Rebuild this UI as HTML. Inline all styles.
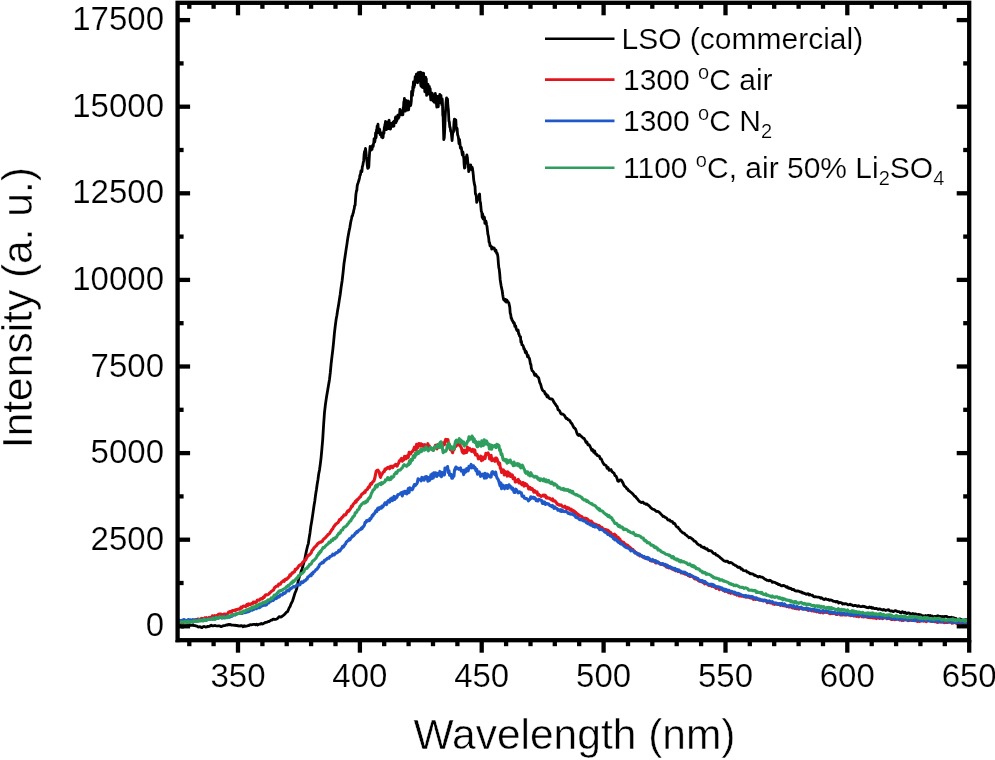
<!DOCTYPE html>
<html><head><meta charset="utf-8"><style>
html,body{margin:0;padding:0;background:#fff;}
svg{display:block;filter:blur(0.45px);}
text{font-family:"Liberation Sans",sans-serif;fill:#000;stroke:#fff;stroke-width:0.2px;paint-order:fill;}
.ttl{stroke-width:0.45px;}
</style></head><body>
<svg width="995" height="760" viewBox="0 0 995 760">
<rect width="995" height="760" fill="#fff"/>
<g fill="none" stroke-linejoin="round" stroke-linecap="round">
<polyline points="178.0,626.2 179.0,626.7 180.0,626.2 181.0,626.6 182.0,627.2 183.0,627.2 184.0,626.2 185.0,626.3 186.0,626.1 186.8,626.5 187.7,625.7 188.6,625.9 189.4,625.8 190.2,625.0 191.1,625.4 192.1,625.4 193.1,624.7 194.1,625.7 195.1,625.6 196.1,626.1 197.1,626.2 198.1,627.0 199.1,626.9 200.1,626.7 201.1,627.3 202.0,627.6 202.9,626.8 203.8,626.5 204.8,626.6 205.7,627.2 206.6,627.0 207.5,626.4 208.4,626.5 209.4,626.3 210.3,625.6 211.2,625.1 212.2,625.9 213.2,625.8 214.2,625.6 215.2,625.5 216.2,625.8 217.2,626.0 218.2,625.8 219.2,625.9 220.2,626.1 221.2,626.7 222.1,626.3 223.0,625.8 223.9,625.6 224.9,625.7 225.8,625.1 226.7,624.9 227.6,625.2 228.6,624.4 229.5,624.8 230.4,624.5 231.3,625.0 232.3,625.1 233.3,625.1 234.3,625.3 235.3,625.1 236.3,625.7 237.3,625.4 238.3,626.0 239.3,625.8 240.3,626.1 241.3,625.6 242.2,625.8 243.1,626.8 244.1,625.7 245.0,626.3 245.9,626.1 246.8,626.1 247.7,625.6 248.7,625.7 249.6,624.8 250.5,624.7 251.4,624.8 252.4,624.6 253.4,624.4 254.4,624.3 255.4,624.8 256.4,624.1 257.4,625.1 258.4,624.5 259.4,624.2 260.4,624.2 261.4,623.4 262.4,624.0 263.4,623.6 264.4,623.1 265.3,622.3 266.3,622.4 267.3,621.9 268.3,621.4 269.2,621.5 270.1,620.8 271.0,620.2 271.9,620.2 272.8,619.4 273.7,619.1 274.6,619.5 275.5,619.3 276.4,619.2 277.3,618.6 278.2,617.8 279.1,616.7 280.0,616.9 280.9,617.1 281.9,616.5 282.8,615.7 283.8,615.1 284.7,614.2 285.6,613.3 286.5,612.0 287.4,611.8 288.3,610.0 289.2,607.8 290.1,606.5 290.9,604.1 291.8,602.3 292.6,600.8 293.4,598.3 294.2,595.6 295.0,593.0 295.8,591.2 296.6,589.1 297.4,585.4 298.1,581.6 298.9,578.5 299.7,575.6 300.5,574.1 301.3,570.9 302.1,569.0 302.9,565.8 303.7,563.4 304.6,560.0 305.4,556.0 306.4,551.0 307.4,546.7 308.4,543.3 309.2,537.7 310.0,532.9 310.8,526.5 311.6,522.0 312.4,516.9 313.2,511.4 314.0,505.7 314.8,500.9 315.6,494.8 316.4,489.8 317.1,484.7 317.9,480.0 318.7,473.9 319.5,469.9 320.3,464.1 321.1,457.6 321.9,448.9 322.7,439.6 323.6,425.0 324.5,412.3 325.5,403.9 326.5,397.1 327.5,391.2 328.5,385.3 329.5,379.4 330.3,372.7 331.1,364.0 332.0,356.4 332.8,349.8 333.6,342.2 334.4,333.3 335.3,325.7 336.1,319.6 336.9,315.3 337.6,310.4 338.4,306.1 339.3,300.1 340.2,294.5 341.1,287.5 342.1,281.0 343.1,272.3 344.0,263.5 345.0,257.0 346.0,250.1 346.9,244.4 347.9,237.4 348.9,231.9 349.8,227.8 350.7,222.2 351.6,218.2 352.0,216.0 352.5,215.8 352.9,213.7 353.3,212.9 353.8,210.1 354.2,208.9 354.6,205.8 355.1,205.4 355.5,199.7 355.9,194.4 356.4,191.1 356.8,190.7 357.2,185.8 357.7,183.9 358.1,183.0 358.6,181.2 359.1,179.7 359.5,178.0 360.0,175.1 360.4,174.9 360.9,171.1 361.4,170.4 361.9,171.7 362.3,166.8 362.8,165.4 363.2,162.9 363.7,160.7 364.1,154.5 364.6,151.3 365.1,151.1 365.5,148.5 366.0,152.7 366.4,157.0 366.9,160.8 367.4,166.3 367.8,168.4 368.3,168.1 368.8,166.7 369.2,158.8 369.6,152.4 370.1,146.5 370.6,147.0 371.1,150.2 371.5,147.8 372.0,149.5 372.3,147.4 372.6,145.3 372.9,146.2 373.2,146.4 373.5,143.6 373.8,142.7 374.1,138.7 374.4,140.3 374.7,142.1 375.0,140.4 375.3,138.4 375.6,132.8 375.9,137.8 376.2,136.7 376.5,129.9 376.8,133.1 377.1,126.2 377.4,126.0 377.7,127.0 378.0,124.2 378.3,131.5 378.6,132.6 378.9,129.0 379.2,129.7 379.5,129.1 379.8,130.0 380.1,134.7 380.4,134.6 380.7,132.4 381.0,134.8 381.3,134.9 381.6,137.1 381.9,136.9 382.2,136.8 382.5,137.0 382.8,137.8 383.1,137.1 383.4,133.0 383.7,131.2 384.0,133.3 384.3,127.3 384.6,128.1 384.9,124.5 385.2,125.1 385.5,121.5 385.8,123.6 386.1,128.4 386.4,129.7 386.7,128.7 387.0,126.4 387.3,127.0 387.6,124.3 387.9,122.1 388.2,125.2 388.5,128.7 388.8,120.7 389.1,120.2 389.4,128.8 389.7,123.3 390.0,127.4 390.3,127.4 390.6,129.0 390.9,123.8 391.2,123.2 391.5,126.6 391.8,126.0 392.1,124.8 392.4,125.6 392.7,124.3 393.0,126.3 393.3,121.9 393.6,124.7 393.9,126.2 394.2,121.2 394.5,123.3 394.8,121.0 395.1,121.7 395.4,117.8 395.7,116.9 396.0,122.7 396.3,119.7 396.6,120.4 396.9,120.7 397.2,117.9 397.5,117.0 397.8,115.2 398.1,118.6 398.4,118.3 398.7,116.9 399.0,117.4 399.3,115.0 399.6,114.7 399.9,109.5 400.2,114.6 400.5,110.9 400.8,112.1 401.1,111.4 401.4,113.8 401.7,114.8 402.0,114.4 402.3,112.5 402.6,110.1 402.9,114.8 403.2,107.7 403.5,107.8 403.8,101.9 404.1,103.0 404.4,98.3 404.7,101.6 405.0,107.2 405.3,111.2 405.6,105.9 405.9,100.5 406.2,106.4 406.5,105.9 406.8,108.9 407.1,104.5 407.4,110.1 407.7,102.8 408.0,100.9 408.3,104.3 408.6,109.9 408.9,107.1 409.2,103.9 409.5,104.0 409.8,105.5 410.1,101.6 410.4,101.6 410.7,105.5 411.0,103.6 411.3,101.1 411.6,91.4 411.9,95.1 412.2,91.2 412.5,95.4 412.8,86.7 413.1,91.7 413.4,82.0 413.7,82.1 414.0,87.3 414.3,82.6 414.6,85.3 414.9,80.5 415.2,76.7 415.5,80.7 415.8,78.2 416.1,77.6 416.4,74.1 416.7,74.1 417.0,82.0 417.3,82.5 417.6,82.7 417.9,76.2 418.2,72.6 418.5,78.4 418.8,80.7 419.1,79.7 419.4,72.3 419.7,74.5 420.0,80.7 420.3,72.2 420.6,83.4 420.9,85.8 421.2,75.3 421.5,72.6 421.8,87.0 422.1,84.1 422.4,79.4 422.7,80.0 423.0,87.7 423.3,78.4 423.6,73.2 423.9,83.5 424.2,78.6 424.5,86.0 424.8,91.7 425.1,81.5 425.4,80.1 425.7,77.1 426.0,92.6 426.3,78.9 426.6,95.4 426.9,91.0 427.2,94.3 427.5,92.6 427.8,84.1 428.1,84.5 428.4,94.0 428.7,86.9 429.0,92.7 429.3,86.4 429.6,88.4 429.9,93.6 430.2,88.7 430.5,96.7 430.8,99.8 431.1,93.8 431.4,95.0 431.7,92.8 432.0,98.3 432.3,93.3 432.6,99.6 432.9,100.8 433.2,98.9 433.5,99.0 433.8,98.7 434.1,102.1 434.4,97.2 434.7,101.6 435.0,95.8 435.3,93.5 435.6,95.1 435.9,103.4 436.2,96.1 436.5,104.4 436.8,107.0 437.1,102.3 437.4,96.5 437.7,103.4 438.0,99.3 438.3,106.8 438.6,96.3 438.9,96.1 439.2,99.3 439.5,99.1 439.8,94.3 440.1,97.2 440.4,102.6 440.7,100.8 441.0,95.5 441.3,102.1 441.6,103.3 441.9,104.9 442.2,98.8 442.5,104.1 442.8,115.7 443.0,111.9 443.4,126.4 443.8,139.6 444.3,137.5 444.7,130.2 445.2,116.8 445.7,108.0 446.1,101.7 446.6,97.8 447.1,99.8 447.5,99.0 447.9,106.0 448.4,110.2 448.9,121.0 449.3,121.7 449.8,127.2 450.2,127.6 450.7,131.3 451.2,131.7 451.6,135.8 452.1,140.5 452.6,134.2 453.0,131.9 453.5,131.9 454.0,121.9 454.4,119.1 454.9,121.7 455.4,124.0 455.8,119.9 456.2,127.3 456.7,130.6 457.1,128.4 457.6,134.8 458.1,136.0 458.5,138.1 459.0,143.6 459.5,139.3 459.9,143.0 460.4,148.0 460.9,147.0 461.4,148.0 461.9,152.1 462.4,154.9 462.9,152.0 463.4,155.7 463.8,158.2 464.1,164.0 464.5,168.1 465.0,167.5 465.5,158.8 466.0,159.0 466.5,156.3 466.9,154.9 467.4,157.7 467.8,162.5 468.3,165.0 468.7,171.6 469.1,169.8 469.5,166.5 470.0,168.3 470.4,167.9 470.8,165.0 471.2,169.5 471.6,167.7 472.1,167.2 472.5,168.6 472.9,171.5 473.3,174.9 473.7,179.8 474.2,183.1 474.6,185.0 475.0,186.2 475.4,193.9 475.8,194.2 476.3,196.5 476.7,202.3 477.1,199.1 477.5,199.0 477.9,199.4 478.4,197.3 478.8,197.9 479.2,194.4 479.6,194.1 480.0,201.3 480.5,202.7 480.9,206.9 481.3,211.2 481.8,212.4 482.2,217.4 482.7,214.0 483.1,219.0 483.6,219.0 484.0,216.8 484.5,217.7 484.9,223.4 485.3,220.6 485.8,220.9 486.2,222.3 486.6,224.7 487.0,226.4 487.4,230.0 487.9,234.4 488.3,235.6 488.7,238.1 489.1,242.3 489.5,242.4 490.0,245.7 490.4,245.4 490.8,246.5 491.3,246.5 491.7,249.0 492.2,247.5 492.7,247.5 493.1,248.1 493.6,248.4 494.1,247.9 494.5,248.8 495.0,250.5 495.4,251.2 495.8,250.0 496.3,251.7 496.7,253.4 497.1,253.1 497.5,254.5 497.9,256.7 498.4,263.5 498.8,267.7 499.2,269.2 499.7,273.6 500.2,279.9 500.7,283.1 501.2,286.1 501.7,288.5 502.2,290.8 502.7,294.5 503.1,297.0 503.6,299.4 504.1,299.9 504.6,299.4 505.0,301.2 505.5,299.4 506.0,301.5 506.4,302.1 506.9,300.2 507.4,301.7 507.9,301.4 508.3,302.3 508.8,302.9 509.3,305.0 509.8,307.6 510.2,313.1 510.7,314.4 511.2,318.4 511.6,318.3 512.1,320.4 512.5,320.6 513.0,321.7 513.5,322.9 513.9,322.4 514.4,323.2 514.8,326.3 515.3,325.8 515.7,325.9 516.2,328.8 516.7,330.0 517.1,330.6 517.6,331.1 518.1,330.0 518.6,333.7 519.0,333.7 519.5,336.0 520.0,336.5 520.5,336.8 520.9,342.1 521.4,341.3 521.9,344.7 522.4,344.9 522.9,345.5 523.4,346.4 523.9,349.0 524.4,348.8 524.9,350.7 525.4,352.7 525.9,351.2 526.3,351.8 526.8,353.5 527.2,355.2 527.6,356.9 528.1,355.3 528.5,357.2 529.0,357.7 529.5,358.8 529.9,360.8 530.4,364.0 530.9,364.3 531.3,368.0 531.8,369.7 532.2,370.8 532.7,371.0 533.7,372.3 534.7,375.3 535.7,374.2 536.7,376.1 537.7,376.9 538.7,378.0 539.7,382.5 540.6,384.1 541.6,388.0 542.5,390.1 543.4,391.2 544.3,391.3 545.2,394.2 546.1,394.0 547.0,396.8 547.9,395.7 548.8,397.9 549.8,398.7 550.7,399.0 551.7,398.9 552.7,399.7 553.6,401.6 554.6,403.1 555.5,404.3 556.3,405.7 557.2,406.5 558.0,409.7 558.9,410.1 559.8,411.2 560.7,413.4 561.6,414.2 562.5,414.0 563.5,414.6 564.4,415.3 565.3,417.0 566.2,418.7 567.2,418.4 568.1,419.9 569.1,419.8 570.1,421.1 571.0,423.0 572.0,423.7 573.0,426.0 573.9,427.7 574.9,428.3 575.8,429.6 576.8,432.8 577.7,434.7 578.6,435.6 579.5,434.5 580.4,435.6 581.4,436.4 582.3,437.3 583.2,438.1 584.1,438.4 585.0,440.0 586.0,442.4 586.9,441.9 587.9,444.9 588.9,444.6 589.8,445.9 590.8,448.0 591.8,450.4 592.7,449.6 593.7,452.3 594.6,451.0 595.6,454.0 596.5,454.1 597.5,455.6 598.4,455.8 599.4,456.3 600.4,458.9 601.3,459.0 602.3,461.3 603.3,463.3 604.2,464.6 605.2,465.0 606.2,465.6 607.1,468.2 608.1,467.4 609.1,470.3 610.1,470.2 611.0,469.6 612.0,471.6 613.0,472.5 614.0,473.1 615.0,475.7 616.0,476.0 617.0,478.4 617.8,481.0 618.5,481.4 619.2,480.4 620.0,479.9 621.0,479.9 622.0,481.4 623.0,482.9 624.0,485.6 625.0,486.6 625.9,487.2 626.8,488.9 627.6,488.8 628.5,490.6 629.4,490.9 630.3,491.9 631.2,492.4 632.0,493.2 632.9,494.1 633.8,495.2 634.6,496.3 635.5,496.4 636.5,498.0 637.5,499.0 638.5,500.4 639.5,501.5 640.4,501.9 641.4,502.6 642.3,502.1 643.2,502.2 644.1,503.5 645.1,503.7 646.0,504.3 646.9,503.9 647.9,505.0 648.8,505.5 649.8,506.5 650.7,507.7 651.7,508.5 652.6,509.1 653.5,509.3 654.5,509.7 655.4,510.6 656.4,511.5 657.3,511.3 658.3,511.6 659.2,512.3 660.1,513.1 661.1,514.3 662.0,515.0 663.0,516.5 663.9,516.3 664.9,517.3 665.8,517.5 666.7,518.2 667.7,519.8 668.6,520.1 669.6,519.8 670.5,521.3 671.5,521.3 672.4,521.6 673.3,523.5 674.3,523.2 675.2,524.2 676.1,526.2 677.0,527.0 678.0,527.1 678.9,528.9 679.8,529.5 680.7,531.1 681.5,531.6 682.4,532.5 683.3,533.1 684.2,533.2 685.2,534.5 686.2,535.1 687.2,536.1 688.1,536.6 689.1,537.8 690.1,537.4 691.1,537.9 692.1,539.2 693.0,539.4 694.0,541.0 694.9,541.1 695.9,541.9 696.8,543.2 697.8,544.2 698.7,544.8 699.6,545.1 700.6,545.6 701.5,546.9 702.4,546.9 703.4,547.8 704.3,547.2 705.2,548.6 706.1,549.0 707.1,548.7 708.0,550.3 708.9,550.9 709.8,550.4 710.7,550.9 711.6,551.2 712.5,552.3 713.4,553.3 714.3,553.7 715.2,553.5 716.1,555.2 717.1,555.1 718.1,556.0 719.1,556.6 720.1,557.6 721.1,558.4 722.1,559.2 723.1,560.1 724.1,560.8 725.0,561.1 725.9,561.5 726.8,561.1 727.7,561.4 728.6,562.5 729.5,562.9 730.4,562.5 731.3,562.6 732.2,563.1 733.2,564.2 734.2,564.7 735.2,565.5 736.2,565.7 737.2,566.6 738.2,567.5 739.2,567.2 740.2,567.5 741.2,569.2 742.2,569.0 743.2,570.5 744.2,570.7 745.2,570.8 746.2,570.7 747.2,572.2 748.2,572.1 749.1,572.8 750.0,573.8 750.9,573.6 751.8,573.8 752.7,573.9 753.6,574.6 754.5,575.5 755.4,575.2 756.3,576.0 757.3,576.4 758.3,577.0 759.3,576.4 760.3,576.7 761.3,577.2 762.3,577.2 763.3,577.9 764.3,578.8 765.2,579.3 766.1,579.6 767.0,580.3 767.9,580.4 768.8,580.9 769.7,580.2 770.6,580.6 771.5,581.1 772.4,582.4 773.4,582.0 774.4,582.3 775.4,582.6 776.4,583.5 777.4,583.4 778.4,584.6 779.4,584.4 780.4,585.3 781.4,585.9 782.4,585.8 783.4,585.3 784.4,585.9 785.4,586.3 786.4,587.3 787.4,586.8 788.4,588.2 789.3,587.8 790.2,588.6 791.1,588.5 792.0,589.6 792.9,589.4 793.8,589.4 794.7,590.6 795.6,590.8 796.5,591.1 797.5,590.8 798.5,591.1 799.5,591.5 800.5,592.2 801.5,591.8 802.5,593.0 803.5,592.8 804.5,593.6 805.4,593.7 806.3,594.4 807.2,593.8 808.1,593.7 809.0,595.1 809.9,594.3 810.8,595.0 811.7,595.3 812.6,595.2 813.6,596.6 814.6,596.8 815.6,596.7 816.6,597.0 817.6,597.2 818.6,597.1 819.6,597.3 820.6,598.3 821.6,597.7 822.6,598.6 823.6,599.4 824.6,599.5 825.6,598.7 826.6,599.2 827.6,599.6 828.6,599.5 829.5,600.4 830.4,599.9 831.3,600.1 832.2,600.3 833.1,601.2 834.0,601.3 834.9,601.3 835.8,602.0 836.7,601.4 837.7,601.7 838.7,603.1 839.7,602.5 840.7,602.6 841.7,602.8 842.7,604.1 843.7,603.6 844.7,604.0 845.6,603.6 846.5,603.8 847.4,604.5 848.3,604.9 849.2,604.7 850.1,604.1 851.0,604.9 851.9,604.9 852.8,605.6 853.8,605.8 854.8,605.4 855.7,605.5 856.7,605.9 857.7,606.4 858.7,605.7 859.7,606.2 860.6,606.6 861.6,606.7 862.6,606.1 863.6,606.5 864.5,606.5 865.5,607.2 866.5,607.2 867.4,607.7 868.4,607.8 869.3,607.0 870.3,607.7 871.2,607.1 872.2,608.3 873.2,607.7 874.1,608.6 875.1,608.7 876.1,608.3 877.0,608.8 878.0,609.4 879.0,608.9 880.0,609.0 880.9,609.5 881.9,609.7 882.9,610.1 883.8,609.5 884.8,610.0 885.8,610.5 886.7,610.2 887.7,609.8 888.7,609.6 889.6,610.8 890.6,611.2 891.6,610.9 892.5,611.3 893.5,611.6 894.5,610.9 895.5,610.6 896.4,611.0 897.4,611.6 898.4,611.7 899.3,611.6 900.3,612.7 901.3,612.8 902.2,611.7 903.2,612.0 904.1,612.9 905.1,612.2 906.1,613.4 907.0,613.7 908.0,613.0 909.0,612.9 909.9,613.5 910.9,614.2 911.8,614.0 912.8,613.4 913.8,614.7 914.7,613.8 915.7,613.9 916.7,614.7 917.6,614.9 918.6,614.3 919.6,614.5 920.5,614.8 921.5,615.3 922.5,615.5 923.5,616.0 924.4,616.3 925.4,615.5 926.4,615.8 927.3,615.9 928.3,615.3 929.2,615.7 930.2,615.5 931.2,616.2 932.1,616.0 933.1,616.6 934.0,616.6 935.0,616.3 936.0,616.8 936.9,616.1 937.9,615.7 938.9,616.2 939.8,616.7 940.8,616.3 941.8,617.1 942.8,616.5 943.7,617.0 944.7,616.3 945.6,616.4 946.6,616.3 947.6,617.1 948.6,617.3 949.5,617.4 950.5,617.8 951.4,617.2 952.3,617.7 953.2,617.7 954.1,617.8 955.0,618.7 955.9,618.4 956.8,619.2 957.7,619.6 958.7,619.4 959.6,618.8 960.5,619.1 961.5,620.1 962.4,620.0 963.3,620.4 964.3,620.1 965.2,619.9 966.1,619.6 967.1,620.0 968.0,619.8" stroke="#000" stroke-width="2.8"/>
<polyline points="178.0,622.5 178.8,622.9 179.6,622.1 180.4,623.4 181.2,622.6 182.0,622.7 182.8,623.0 183.6,622.5 184.4,622.0 185.2,621.7 186.0,621.4 186.8,622.5 187.6,621.9 188.3,621.2 189.1,622.4 189.9,621.1 190.7,621.1 191.4,620.7 192.2,621.1 193.0,620.8 193.8,620.7 194.6,619.9 195.3,619.8 196.1,619.6 196.9,619.6 197.7,619.1 198.4,619.0 199.2,620.4 200.0,620.3 200.8,618.8 201.5,618.4 202.3,618.6 203.1,619.4 203.9,619.4 204.7,617.9 205.4,618.8 206.2,617.6 207.0,618.4 207.7,618.4 208.5,618.8 209.3,617.3 210.1,618.0 210.8,617.8 211.6,617.7 212.3,615.8 213.1,616.3 213.9,617.0 214.7,615.7 215.4,616.3 216.2,615.6 217.0,615.8 217.8,615.1 218.5,614.2 219.3,614.1 220.1,614.0 220.9,614.1 221.6,615.3 222.4,614.6 223.2,614.7 224.0,614.1 224.8,614.1 225.5,614.3 226.3,614.3 227.1,614.0 227.8,613.6 228.6,612.1 229.4,612.3 230.2,611.4 230.9,612.1 231.7,612.2 232.4,610.6 233.2,610.5 234.0,610.5 234.8,610.0 235.5,610.6 236.3,609.5 237.1,609.7 237.8,609.2 238.6,609.0 239.4,609.3 240.2,609.0 241.0,607.1 241.7,608.1 242.5,606.9 243.3,606.1 244.1,606.3 244.8,606.2 245.6,606.7 246.4,605.3 247.2,604.3 247.9,605.5 248.7,603.9 249.5,604.3 250.2,604.7 251.0,603.8 251.8,603.4 252.6,603.7 253.3,602.0 254.1,602.7 254.9,602.1 255.6,602.7 256.4,602.0 257.2,600.3 257.9,600.1 258.7,600.2 259.5,600.1 260.3,599.0 261.1,598.6 261.8,599.0 262.6,598.6 263.4,597.1 264.2,597.4 264.9,595.8 265.7,594.8 266.5,595.0 267.3,594.7 268.1,594.5 268.9,594.0 269.6,593.0 270.4,592.3 271.2,591.5 272.0,590.9 272.7,590.4 273.5,590.1 274.2,588.4 274.9,587.2 275.7,586.9 276.4,586.2 277.2,585.9 277.9,586.1 278.7,584.1 279.5,584.2 280.3,584.3 281.1,582.7 281.9,581.8 282.6,581.5 283.4,580.7 284.2,581.3 285.0,579.6 285.8,579.0 286.6,579.4 287.4,578.6 288.2,577.4 289.0,577.2 289.8,574.9 290.5,575.7 291.3,574.2 292.1,572.9 292.9,573.0 293.7,571.9 294.5,571.7 295.3,569.3 296.1,569.4 296.9,568.5 297.6,568.0 298.4,566.5 299.2,565.3 300.0,565.5 300.8,564.3 301.6,564.4 302.4,562.7 303.2,561.8 304.0,561.2 304.8,560.1 305.6,559.9 306.3,558.6 307.1,557.1 307.9,555.6 308.7,555.4 309.5,554.6 310.3,553.7 311.1,553.1 311.9,550.6 312.7,549.9 313.4,548.9 314.2,547.7 315.0,546.8 315.8,546.1 316.6,545.3 317.4,544.1 318.1,543.3 318.7,543.2 319.4,542.4 320.0,542.3 320.8,542.3 321.5,541.4 322.3,541.4 323.0,539.8 323.8,539.0 324.5,538.4 325.3,537.8 326.0,536.9 326.8,536.1 327.5,535.4 328.3,534.2 329.0,534.2 329.8,533.1 330.5,531.8 331.3,530.7 332.0,529.4 332.8,528.8 333.5,527.0 334.3,526.2 335.0,524.9 335.8,524.3 336.6,523.5 337.3,523.0 338.1,522.4 338.8,521.2 339.6,519.5 340.3,519.9 341.1,518.8 341.8,517.6 342.6,517.1 343.3,516.2 344.1,514.9 344.8,515.0 345.6,514.9 346.3,513.7 347.1,511.8 347.8,510.8 348.6,511.3 349.3,510.3 350.1,509.1 350.8,508.2 351.6,506.2 352.3,506.5 353.1,504.4 353.8,503.5 354.6,503.0 355.3,501.4 356.1,502.0 356.8,499.9 357.6,500.0 358.3,498.8 359.1,498.2 359.8,496.9 360.6,496.7 361.3,494.8 362.1,494.2 362.9,493.2 363.6,493.3 364.4,491.8 365.1,492.3 365.9,490.1 366.6,489.8 367.4,489.4 368.1,487.7 368.7,486.8 369.4,487.2 370.0,485.0 370.8,483.6 371.6,484.1 372.3,482.5 373.1,481.6 373.9,481.0 374.7,478.6 375.5,474.6 376.3,471.2 377.1,470.5 377.9,470.1 378.6,471.4 379.2,471.9 379.9,475.5 380.5,477.4 381.3,475.0 382.0,474.0 382.8,472.9 383.5,471.7 384.3,471.5 385.0,469.1 385.8,469.5 386.6,468.6 387.3,467.8 388.1,467.2 388.8,467.3 389.6,468.7 390.3,466.5 391.1,466.2 391.8,466.3 392.6,467.7 393.3,466.4 394.1,465.5 394.8,465.6 395.6,464.3 396.3,465.3 397.1,466.2 397.8,464.1 398.6,463.3 399.3,460.8 400.1,460.9 400.8,459.3 401.6,458.4 402.3,461.2 403.1,460.0 403.8,459.9 404.6,456.4 405.3,456.8 406.1,458.7 406.8,456.0 407.6,457.7 408.3,457.3 409.1,452.4 409.8,453.9 410.6,454.0 411.3,452.3 412.1,451.8 412.9,450.9 413.6,449.3 414.4,447.2 415.1,449.6 415.9,450.0 416.6,444.4 417.4,448.2 418.1,446.5 418.9,443.6 419.6,443.8 420.4,446.1 421.1,443.8 421.9,444.7 422.6,444.6 423.4,448.4 424.1,445.6 424.9,444.6 425.6,448.2 426.4,448.4 427.1,447.0 427.9,443.7 428.7,448.2 429.4,446.0 430.2,448.5 430.9,448.7 431.7,448.8 432.4,449.8 433.2,450.2 433.9,448.1 434.7,447.9 435.4,445.3 436.2,446.4 436.9,448.9 437.7,444.6 438.4,447.2 439.2,447.2 439.9,443.3 440.7,446.3 441.4,445.3 442.2,446.8 442.9,443.0 443.7,444.7 444.4,444.6 445.1,441.1 445.7,439.4 446.4,439.6 447.1,441.0 447.9,439.5 448.7,445.0 449.4,444.3 450.2,449.5 451.0,449.0 451.8,450.8 452.6,452.7 453.3,449.8 454.1,449.7 454.8,446.9 455.6,446.6 456.3,443.3 457.1,445.3 457.8,444.6 458.5,444.0 459.3,443.9 460.0,445.8 460.8,446.7 461.5,448.1 462.2,451.7 463.0,452.8 463.7,453.2 464.4,450.2 465.2,452.7 465.9,450.5 466.6,452.5 467.4,447.0 468.1,450.3 468.9,449.0 469.6,448.5 470.3,450.0 471.1,450.9 471.8,451.4 472.6,449.3 473.3,450.3 474.0,452.3 474.8,449.9 475.5,455.0 476.2,454.4 477.0,454.3 477.7,456.2 478.4,458.8 479.2,458.6 479.9,458.3 480.7,456.1 481.4,460.6 482.1,457.1 482.9,459.9 483.6,457.1 484.4,457.7 485.1,458.5 485.9,453.3 486.6,454.4 487.4,453.6 488.1,453.0 488.9,455.0 489.6,458.9 490.4,455.6 491.1,455.4 491.8,460.8 492.6,458.7 493.3,458.9 494.1,460.4 494.9,461.3 495.6,458.0 496.4,458.0 497.2,459.5 498.0,462.3 498.8,464.4 499.6,463.0 500.4,468.5 501.0,468.5 501.6,472.4 502.2,470.2 502.8,470.8 503.5,469.9 504.3,475.0 505.0,471.4 505.8,472.3 506.5,472.3 507.2,476.1 508.0,471.9 508.7,473.6 509.4,475.9 510.2,473.8 510.9,476.5 511.6,476.4 512.4,475.0 513.1,478.6 513.9,477.9 514.6,477.8 515.3,482.0 516.1,481.8 516.8,480.4 517.5,480.2 518.3,479.3 519.0,483.0 519.8,481.3 520.5,482.9 521.2,483.8 522.0,484.8 522.8,482.6 523.5,482.8 524.2,486.1 525.0,483.6 525.8,485.5 526.5,484.4 527.2,485.6 527.9,485.9 528.6,488.9 529.3,489.0 530.0,487.5 530.8,489.3 531.5,489.5 532.3,488.6 533.1,490.2 533.9,492.2 534.7,490.6 535.4,491.5 536.2,492.5 537.0,491.8 537.8,494.9 538.5,494.1 539.3,495.3 540.1,495.3 540.9,496.4 541.6,496.2 542.4,495.7 543.2,495.1 544.0,496.2 544.8,495.2 545.5,495.6 546.3,497.9 547.1,497.2 547.9,498.1 548.6,498.2 549.4,498.0 550.2,498.8 551.0,499.6 551.7,500.1 552.5,498.9 553.3,501.0 554.0,500.6 554.8,500.7 555.6,501.7 556.4,502.7 557.1,503.9 557.9,504.5 558.7,504.4 559.4,505.3 560.2,505.3 561.0,504.8 561.8,505.8 562.5,506.6 563.3,507.0 564.1,507.1 564.9,506.2 565.6,507.7 566.4,508.5 567.2,507.4 568.0,508.6 568.8,507.9 569.5,509.3 570.3,510.0 571.1,509.1 571.8,510.7 572.6,510.3 573.4,511.9 574.1,510.9 574.9,512.8 575.7,512.4 576.5,513.3 577.2,513.6 578.0,515.3 578.8,514.8 579.5,515.6 580.3,516.1 581.1,516.3 581.9,516.7 582.6,518.0 583.4,518.1 584.2,518.8 585.0,518.1 585.7,519.1 586.5,518.6 587.3,519.0 588.1,520.0 588.9,520.7 589.6,521.3 590.4,521.4 591.2,521.0 591.9,521.9 592.7,523.1 593.5,523.9 594.2,524.3 595.0,524.0 595.8,525.3 596.5,524.6 597.3,525.7 598.1,526.4 598.9,525.5 599.6,526.1 600.4,527.0 601.2,527.2 602.0,527.5 602.7,528.6 603.5,529.1 604.3,529.2 605.1,530.0 605.8,529.6 606.6,530.1 607.4,530.0 608.2,530.6 609.0,531.5 609.7,532.5 610.5,532.4 611.3,533.6 612.0,534.2 612.8,534.4 613.6,535.0 614.4,534.2 615.1,536.0 615.9,535.4 616.6,537.3 617.4,537.4 618.2,537.4 619.0,539.5 619.7,538.8 620.5,540.8 621.3,541.1 622.0,542.0 622.8,542.2 623.6,542.3 624.4,543.6 625.2,543.9 625.9,545.1 626.7,546.1 627.5,545.2 628.3,546.0 629.0,547.1 629.8,547.0 630.6,548.2 631.4,549.0 632.1,549.1 632.9,549.4 633.7,551.1 634.5,551.0 635.2,552.4 636.0,552.4 636.8,553.8 637.5,553.3 638.3,554.2 639.1,554.2 639.8,555.9 640.6,555.1 641.4,556.2 642.2,556.1 643.0,557.1 643.8,557.3 644.6,558.0 645.4,558.1 646.2,558.1 647.0,558.4 647.8,558.2 648.6,558.5 649.4,558.9 650.2,560.6 651.0,560.4 651.8,561.2 652.6,561.0 653.4,560.6 654.1,560.6 654.9,561.8 655.7,562.9 656.5,562.9 657.3,561.9 658.0,562.7 658.8,562.6 659.6,563.2 660.4,564.2 661.1,563.9 661.9,564.5 662.7,564.4 663.5,564.9 664.2,565.2 665.0,565.8 665.8,565.2 666.6,567.2 667.3,566.0 668.1,566.1 668.9,568.0 669.6,567.3 670.4,567.0 671.2,567.7 672.0,569.0 672.7,569.2 673.5,569.4 674.3,570.0 675.0,569.7 675.8,570.8 676.6,569.9 677.4,570.7 678.1,571.6 678.9,571.4 679.7,571.2 680.5,571.6 681.2,572.9 682.0,572.6 682.8,572.6 683.6,573.4 684.3,572.8 685.1,574.2 685.9,573.9 686.7,574.5 687.4,574.5 688.2,575.7 689.0,574.8 689.8,576.4 690.5,576.4 691.3,575.9 692.1,576.2 692.9,576.8 693.7,577.5 694.5,578.8 695.3,579.0 696.0,578.5 696.8,579.3 697.6,578.9 698.4,580.7 699.2,581.0 700.0,581.3 700.8,581.6 701.6,581.0 702.4,582.2 703.2,582.6 704.0,583.0 704.8,583.9 705.6,583.2 706.4,583.4 707.2,584.1 708.0,584.7 708.7,585.4 709.5,585.5 710.2,585.4 711.0,585.5 711.7,586.4 712.4,586.1 713.1,586.4 713.9,586.0 714.6,587.2 715.4,586.9 716.1,588.5 716.9,587.3 717.7,587.5 718.5,588.6 719.3,589.7 720.1,588.7 720.9,588.8 721.7,589.0 722.5,589.1 723.3,590.4 724.1,590.2 724.8,591.3 725.6,590.5 726.3,591.3 727.0,590.6 727.8,591.3 728.5,592.6 729.2,592.3 730.0,592.3 730.7,593.3 731.5,592.5 732.2,592.2 733.0,593.2 733.8,593.6 734.6,594.2 735.4,593.7 736.2,594.2 737.0,595.1 737.8,594.9 738.6,594.4 739.4,595.9 740.2,595.4 741.0,596.1 741.8,596.3 742.6,596.3 743.4,595.8 744.2,596.7 745.0,595.9 745.8,597.1 746.6,597.0 747.4,596.9 748.2,597.3 748.9,597.2 749.7,597.7 750.4,597.8 751.1,598.1 751.9,597.4 752.6,597.7 753.4,599.3 754.1,598.2 754.8,598.6 755.6,599.5 756.3,599.1 757.1,599.3 757.9,598.8 758.7,599.8 759.5,600.2 760.3,600.1 761.1,600.2 761.9,600.0 762.7,600.6 763.5,600.2 764.3,600.8 765.0,600.5 765.8,600.9 766.5,600.9 767.2,602.7 768.0,602.1 768.7,601.8 769.5,602.6 770.2,602.2 770.9,603.0 771.7,603.0 772.4,602.9 773.2,604.0 774.0,603.8 774.8,604.4 775.6,603.3 776.4,603.7 777.2,604.4 778.0,604.4 778.8,604.0 779.6,603.8 780.4,605.3 781.2,604.6 782.0,604.1 782.8,605.5 783.6,605.0 784.4,605.9 785.2,605.0 786.0,605.4 786.8,606.7 787.6,606.3 788.4,606.1 789.1,607.1 789.9,606.9 790.6,606.2 791.4,606.5 792.1,607.8 792.8,608.0 793.5,607.8 794.3,607.6 795.0,608.5 795.8,608.2 796.5,608.8 797.3,608.5 798.1,607.8 798.9,609.1 799.7,608.6 800.5,608.3 801.3,608.3 802.1,608.4 802.9,609.0 803.7,608.3 804.5,609.0 805.2,608.9 806.0,608.7 806.7,609.6 807.5,609.4 808.2,610.5 808.9,610.0 809.6,609.4 810.4,609.4 811.1,610.4 811.9,610.9 812.6,610.3 813.4,610.7 814.2,611.3 815.0,611.1 815.8,611.2 816.6,611.8 817.4,610.6 818.2,610.8 819.0,612.3 819.8,612.1 820.6,612.6 821.4,611.9 822.2,611.8 823.0,612.9 823.8,612.4 824.6,612.1 825.4,612.3 826.2,612.4 827.0,611.8 827.8,612.1 828.6,613.0 829.3,613.2 830.1,613.7 830.8,613.2 831.5,612.5 832.3,613.6 833.0,612.8 833.8,613.5 834.5,613.0 835.2,613.2 836.0,614.4 836.7,613.9 837.5,614.3 838.3,613.3 839.0,613.9 839.8,613.9 840.6,615.0 841.4,614.7 842.2,614.9 843.0,614.7 843.7,613.7 844.5,615.0 845.3,615.0 846.1,615.0 846.9,614.6 847.6,614.4 848.4,614.9 849.2,614.8 850.0,614.3 850.8,615.6 851.6,615.4 852.4,614.6 853.2,615.5 854.0,616.2 854.8,615.5 855.6,614.7 856.4,616.4 857.2,616.0 858.0,615.7 858.8,616.7 859.6,615.8 860.4,615.5 861.2,615.2 862.0,616.7 862.8,615.6 863.6,616.9 864.4,615.6 865.2,616.7 866.0,615.7 866.8,617.0 867.6,615.8 868.4,617.5 869.2,617.0 870.0,617.5 870.8,617.8 871.6,617.3 872.4,617.3 873.2,618.0 874.0,617.7 874.8,618.0 875.6,617.5 876.4,618.5 877.2,617.8 878.0,617.1 878.8,617.0 879.6,618.5 880.4,617.2 881.2,618.2 882.0,618.1 882.8,618.7 883.6,618.0 884.4,617.7 885.2,617.8 886.0,617.8 886.8,618.6 887.6,617.8 888.4,618.5 889.2,618.2 890.0,618.2 890.8,619.3 891.6,619.5 892.4,619.4 893.2,618.9 894.0,619.1 894.8,619.6 895.6,619.5 896.4,619.3 897.1,618.9 897.9,618.9 898.7,619.5 899.5,620.0 900.3,619.3 901.1,619.7 901.9,620.5 902.6,619.4 903.4,620.3 904.2,619.9 905.0,619.6 905.8,619.9 906.6,619.2 907.3,620.1 908.1,620.6 908.9,619.3 909.7,620.4 910.5,619.4 911.3,619.5 912.1,620.5 912.8,620.4 913.6,619.8 914.4,620.1 915.2,619.7 916.0,620.8 916.8,620.9 917.5,621.4 918.3,621.0 919.1,621.4 919.9,621.2 920.7,620.9 921.5,620.9 922.3,620.1 923.0,620.3 923.8,621.1 924.6,620.7 925.4,620.3 926.2,621.6 927.0,620.9 927.8,620.4 928.5,620.5 929.3,620.4 930.1,620.7 930.9,621.4 931.7,621.3 932.5,620.8 933.2,620.7 934.0,621.4 934.8,621.7 935.6,621.5 936.4,621.6 937.2,622.4 938.0,622.3 938.7,622.1 939.5,621.5 940.3,621.9 941.1,622.2 941.9,621.7 942.7,621.1 943.5,622.2 944.2,622.6 945.0,621.6 945.8,622.5 946.6,622.5 947.4,622.4 948.2,621.3 949.0,621.3 949.7,622.2 950.5,622.3 951.3,621.6 952.1,623.2 952.9,621.9 953.7,622.8 954.4,622.3 955.2,622.3 956.0,623.0 956.8,623.4 957.5,621.7 958.3,623.0 959.0,622.9 959.8,622.7 960.5,622.4 961.3,622.7 962.0,622.3 962.8,623.5 963.5,622.1 964.3,622.2 965.0,623.2 965.8,622.8 966.5,623.1 967.2,622.9 968.0,623.0" stroke="#e3141c" stroke-width="3.1"/>
<polyline points="178.0,620.4 178.8,620.8 179.6,620.4 180.4,620.9 181.2,621.3 182.0,620.4 182.8,620.3 183.6,619.5 184.4,619.8 185.2,620.2 186.0,620.5 186.8,620.8 187.5,620.0 188.3,619.5 189.1,619.9 189.8,621.0 190.6,619.8 191.4,620.3 192.2,621.2 192.9,619.6 193.7,620.6 194.5,621.3 195.2,620.0 196.0,620.6 196.8,621.2 197.5,619.8 198.3,620.5 199.1,620.8 199.8,620.6 200.6,620.2 201.4,619.7 202.2,620.1 202.9,619.8 203.7,619.9 204.5,619.6 205.2,620.4 206.0,620.2 206.8,619.3 207.5,619.6 208.3,619.0 209.1,619.2 209.8,618.9 210.6,619.3 211.4,618.7 212.2,618.7 212.9,619.1 213.7,618.4 214.5,619.2 215.2,617.7 216.0,618.6 216.8,618.0 217.5,617.9 218.3,618.2 219.1,617.9 219.8,617.6 220.6,616.8 221.4,616.9 222.2,617.9 222.9,617.5 223.7,617.7 224.5,618.0 225.2,617.4 226.0,616.2 226.8,616.5 227.5,616.9 228.3,616.1 229.1,617.2 229.8,617.0 230.6,616.6 231.4,615.7 232.2,616.2 232.9,614.7 233.7,614.8 234.5,614.9 235.2,615.1 236.0,614.5 236.7,613.7 237.5,613.8 238.2,613.6 239.0,613.4 239.7,612.9 240.5,613.2 241.2,613.0 241.9,613.4 242.7,613.2 243.4,612.5 244.2,612.2 244.9,612.6 245.7,612.5 246.4,611.9 247.2,611.9 247.9,611.9 248.7,610.0 249.5,611.3 250.2,609.9 251.0,610.0 251.8,610.3 252.6,609.9 253.3,608.6 254.1,609.2 254.9,607.9 255.6,608.1 256.4,608.7 257.2,607.7 257.9,607.7 258.7,607.7 259.5,607.6 260.3,607.2 261.1,605.5 261.8,606.0 262.6,605.8 263.4,604.7 264.2,605.3 264.9,605.0 265.7,605.1 266.5,604.9 267.3,603.0 268.1,602.7 268.9,602.9 269.6,601.5 270.4,601.1 271.2,601.2 272.0,599.9 272.7,600.5 273.5,600.2 274.2,598.3 274.9,598.7 275.7,598.8 276.4,598.6 277.2,596.9 277.9,596.3 278.7,597.1 279.5,596.7 280.3,594.9 281.1,594.9 281.9,594.9 282.6,594.7 283.4,593.0 284.2,593.4 285.0,593.2 285.8,592.3 286.6,591.1 287.4,590.4 288.2,590.4 289.0,590.8 289.8,589.0 290.5,588.4 291.3,588.6 292.1,587.6 292.9,587.2 293.7,586.5 294.5,587.0 295.3,586.8 296.1,585.9 296.9,584.9 297.6,584.8 298.4,584.8 299.2,585.0 300.0,584.6 300.8,582.8 301.6,581.8 302.4,582.7 303.2,582.3 304.0,580.9 304.8,580.9 305.6,580.4 306.3,579.3 307.1,579.1 307.9,576.9 308.7,576.7 309.5,576.0 310.3,575.0 311.1,575.7 311.9,573.4 312.7,573.9 313.4,572.0 314.2,571.8 315.0,571.0 315.8,569.8 316.6,569.5 317.4,568.6 318.1,567.3 318.7,567.0 319.4,564.9 320.0,564.1 320.8,563.7 321.5,563.1 322.3,562.2 323.0,562.9 323.8,562.2 324.5,560.4 325.3,560.3 326.0,559.4 326.8,559.2 327.5,558.2 328.3,558.0 329.0,558.2 329.8,556.6 330.5,556.6 331.3,556.0 332.0,555.8 332.8,554.2 333.5,555.0 334.3,554.9 335.0,553.9 335.8,552.8 336.6,553.0 337.3,552.5 338.1,551.8 338.8,550.3 339.6,551.1 340.3,550.4 341.1,548.8 341.8,548.3 342.6,546.4 343.3,547.2 344.1,545.9 344.8,544.6 345.6,543.9 346.3,542.0 347.1,541.5 347.8,540.6 348.6,540.5 349.3,538.8 350.1,539.6 350.8,538.1 351.6,537.3 352.3,535.9 353.1,536.2 353.8,535.6 354.6,534.5 355.3,533.1 356.1,533.3 356.8,531.5 357.6,532.1 358.3,531.0 359.1,530.0 359.8,529.8 360.6,529.5 361.3,528.2 362.1,528.6 362.9,526.8 363.6,526.6 364.4,525.2 365.1,522.4 365.9,522.4 366.6,520.7 367.4,521.1 368.1,520.3 368.7,519.9 369.4,520.7 370.0,518.5 370.8,519.0 371.5,517.4 372.3,515.4 373.0,515.8 373.8,513.9 374.5,513.6 375.3,511.9 376.0,510.5 376.8,511.6 377.5,508.6 378.3,507.9 379.0,509.3 379.8,507.8 380.5,507.2 381.3,508.2 382.0,506.0 382.8,507.1 383.5,505.8 384.3,504.3 385.0,502.8 385.8,502.9 386.6,504.7 387.3,502.2 388.1,500.8 388.8,500.6 389.6,502.1 390.3,499.0 391.1,500.7 391.8,498.0 392.6,500.6 393.3,498.6 394.1,496.4 394.8,499.4 395.6,496.9 396.3,498.0 397.1,496.8 397.8,494.7 398.6,494.4 399.3,494.2 400.1,493.9 400.8,493.0 401.6,492.6 402.3,496.0 403.1,492.0 403.8,493.4 404.6,491.4 405.3,491.4 406.1,493.4 406.8,493.8 407.6,491.2 408.3,488.6 409.1,492.6 409.8,487.7 410.6,488.7 411.3,488.8 412.1,489.8 412.9,488.6 413.6,486.6 414.4,484.5 415.1,485.6 415.9,484.7 416.6,483.9 417.4,482.4 418.1,478.7 418.9,479.2 419.6,479.7 420.4,479.4 421.1,480.8 421.9,477.4 422.6,479.6 423.4,478.0 424.1,480.2 424.9,477.0 425.6,478.6 426.4,476.5 427.1,477.1 427.9,481.2 428.7,477.5 429.4,480.6 430.2,478.1 430.9,474.8 431.7,478.7 432.4,473.9 433.2,478.0 433.9,472.8 434.7,476.2 435.4,472.7 436.2,473.3 436.9,476.4 437.7,473.4 438.4,474.3 439.2,474.9 439.9,471.4 440.7,475.9 441.4,476.6 442.2,472.4 442.9,474.9 443.7,473.4 444.4,474.9 445.0,468.0 445.6,468.1 446.3,468.5 446.9,468.8 447.6,466.6 448.2,472.5 448.9,470.6 449.6,475.3 450.4,475.1 451.1,474.4 451.8,478.2 452.5,478.1 453.2,476.3 453.9,476.3 454.5,470.4 455.2,468.7 455.9,467.0 456.6,468.8 457.4,468.1 458.2,468.2 459.0,469.3 459.8,468.8 460.5,467.8 461.3,471.0 462.1,470.4 462.9,471.7 463.7,474.6 464.4,470.1 465.2,472.3 466.0,471.6 466.7,468.7 467.5,468.9 468.2,470.8 469.0,466.2 469.7,467.5 470.5,467.6 471.2,464.4 472.0,467.8 472.8,466.0 473.6,465.9 474.4,468.2 475.2,467.7 475.9,470.6 476.7,469.3 477.5,474.3 478.3,473.0 479.1,471.8 479.9,473.3 480.6,476.3 481.4,476.1 482.1,474.5 482.9,474.0 483.6,474.4 484.4,478.1 485.1,473.2 485.9,477.9 486.6,477.7 487.4,474.1 488.1,474.7 488.9,475.7 489.6,476.7 490.4,477.1 491.1,476.9 491.8,472.4 492.6,471.6 493.3,473.2 494.1,473.8 494.9,474.7 495.6,472.1 496.4,475.9 497.2,478.3 498.0,479.2 498.7,480.9 499.4,483.2 500.2,486.0 500.9,482.9 501.6,488.7 502.3,485.0 503.1,485.3 503.8,486.1 504.6,488.8 505.3,486.9 506.0,485.5 506.8,485.6 507.5,488.4 508.2,488.1 509.0,484.8 509.7,485.9 510.4,487.0 511.2,486.9 511.9,489.2 512.7,488.1 513.4,490.3 514.2,492.4 515.0,492.4 515.8,489.2 516.6,490.0 517.3,491.4 518.1,492.8 518.9,492.0 519.7,491.8 520.5,492.7 521.3,492.7 522.1,496.3 522.9,496.4 523.7,496.1 524.4,498.2 525.2,498.2 526.0,498.8 526.8,498.6 527.6,499.3 528.4,500.9 529.2,499.6 530.0,499.4 530.8,496.8 531.5,498.3 532.3,498.0 533.1,497.2 533.9,498.5 534.7,497.6 535.4,498.5 536.2,500.7 537.0,500.6 537.8,501.0 538.5,499.3 539.3,499.9 540.1,499.7 540.9,500.2 541.6,500.5 542.4,503.4 543.2,503.5 544.0,501.8 544.8,502.2 545.5,504.5 546.3,503.7 547.1,503.5 547.9,504.1 548.6,503.9 549.4,505.1 550.2,505.8 551.0,505.6 551.7,506.7 552.5,505.5 553.3,507.0 554.0,508.3 554.8,506.9 555.6,508.0 556.4,508.7 557.1,508.6 557.9,510.2 558.7,509.6 559.4,510.0 560.2,511.0 561.0,509.7 561.8,511.5 562.5,510.4 563.3,511.1 564.1,511.5 564.9,511.6 565.6,511.0 566.4,511.7 567.2,512.0 568.0,513.3 568.8,513.5 569.5,513.2 570.3,514.1 571.1,514.3 571.8,513.8 572.6,513.7 573.4,515.1 574.1,515.0 574.9,515.0 575.7,517.2 576.5,517.7 577.2,517.5 578.0,518.1 578.8,518.7 579.5,519.6 580.3,519.2 581.1,519.9 581.9,519.6 582.6,520.1 583.4,520.9 584.2,520.8 585.0,520.8 585.7,521.8 586.5,522.9 587.3,522.4 588.1,523.8 588.9,523.9 589.6,524.2 590.4,525.0 591.2,523.9 591.9,524.5 592.7,526.2 593.5,526.5 594.2,525.4 595.0,527.0 595.8,526.0 596.5,526.6 597.3,527.0 598.1,527.7 598.9,528.3 599.6,529.6 600.4,529.2 601.1,529.1 601.9,529.8 602.7,529.8 603.4,530.3 604.2,531.5 604.9,532.2 605.7,532.2 606.4,532.9 607.2,533.0 607.9,534.5 608.7,534.5 609.4,534.7 610.2,535.8 610.9,535.8 611.7,536.5 612.5,536.7 613.2,538.4 614.0,538.0 614.7,539.8 615.5,539.3 616.3,539.4 617.0,541.0 617.8,541.6 618.6,542.4 619.4,541.6 620.1,543.4 620.9,544.0 621.7,543.6 622.5,544.4 623.2,545.2 624.0,545.1 624.8,546.8 625.5,547.0 626.3,547.7 627.1,547.5 627.9,548.1 628.6,548.1 629.4,548.8 630.2,550.0 631.0,550.9 631.7,550.0 632.5,550.3 633.3,550.8 634.1,551.9 634.8,553.0 635.6,552.4 636.4,553.3 637.2,553.8 638.0,554.8 638.7,554.0 639.5,554.1 640.3,555.4 641.0,555.5 641.8,555.7 642.6,556.9 643.4,557.0 644.1,556.3 644.9,557.4 645.7,558.2 646.4,558.7 647.2,557.3 648.0,559.1 648.8,558.0 649.5,559.4 650.3,559.6 651.1,560.5 651.8,560.2 652.6,559.5 653.4,560.9 654.1,560.5 654.9,561.8 655.7,560.7 656.5,561.5 657.3,562.5 658.0,561.8 658.8,563.0 659.6,563.4 660.4,563.8 661.1,564.3 661.9,563.8 662.7,563.6 663.5,564.1 664.2,564.7 665.0,564.4 665.8,565.9 666.6,565.0 667.3,565.3 668.1,567.2 668.9,567.3 669.6,566.6 670.4,567.1 671.2,568.3 672.0,568.2 672.7,567.9 673.5,568.5 674.3,569.6 675.0,568.3 675.8,570.4 676.6,570.0 677.4,569.6 678.1,571.0 678.9,570.0 679.7,570.9 680.5,571.5 681.2,571.3 682.0,572.7 682.8,572.7 683.6,572.0 684.3,572.3 685.1,572.4 685.9,573.6 686.7,573.3 687.4,574.2 688.2,575.0 689.0,575.4 689.8,574.4 690.5,575.1 691.3,575.6 692.1,575.9 692.9,576.3 693.7,576.8 694.5,577.7 695.3,577.4 696.1,577.9 696.9,578.4 697.7,578.4 698.5,579.7 699.3,579.7 700.1,581.0 700.9,581.2 701.7,580.5 702.5,580.8 703.2,582.1 704.0,582.0 704.8,581.3 705.6,582.8 706.3,582.6 707.1,583.6 707.9,583.9 708.7,584.5 709.5,584.4 710.2,585.0 711.0,584.2 711.8,584.6 712.6,584.4 713.4,586.2 714.2,585.2 715.0,586.2 715.8,586.4 716.6,587.3 717.4,586.8 718.2,586.7 719.0,587.4 719.7,587.1 720.5,587.8 721.2,588.7 721.9,587.9 722.6,589.9 723.4,589.3 724.1,589.1 724.8,590.3 725.6,589.3 726.3,589.9 727.0,591.2 727.8,590.2 728.5,591.3 729.2,590.4 730.0,591.4 730.7,591.8 731.5,591.3 732.2,591.7 733.0,592.3 733.8,592.6 734.6,592.1 735.4,592.8 736.2,594.1 737.0,593.1 737.8,594.1 738.6,593.3 739.4,594.0 740.2,594.3 741.0,594.7 741.8,595.1 742.6,595.5 743.4,595.5 744.2,595.9 745.0,596.3 745.8,595.5 746.6,596.6 747.4,596.2 748.2,596.0 748.9,596.0 749.7,597.3 750.4,597.2 751.1,596.4 751.9,597.5 752.6,596.7 753.4,597.6 754.1,598.1 754.8,598.4 755.6,597.7 756.3,597.7 757.1,598.8 757.9,599.5 758.7,599.6 759.5,599.0 760.3,599.6 761.1,600.0 761.9,600.5 762.7,600.0 763.5,600.9 764.3,600.1 765.0,600.1 765.8,600.4 766.5,601.3 767.2,601.8 768.0,601.2 768.7,601.8 769.5,601.0 770.2,601.8 770.9,601.9 771.7,602.0 772.4,601.7 773.2,602.7 774.0,602.9 774.8,603.0 775.6,603.4 776.4,603.0 777.2,603.9 778.0,603.6 778.8,604.3 779.6,603.6 780.4,604.3 781.2,603.5 782.0,603.5 782.8,605.2 783.6,604.3 784.4,603.9 785.2,605.1 786.0,605.8 786.8,605.7 787.6,606.2 788.4,606.3 789.1,605.6 789.9,605.3 790.6,605.2 791.4,605.7 792.1,606.5 792.8,607.2 793.5,605.7 794.3,607.3 795.0,607.4 795.8,607.4 796.5,606.5 797.3,606.5 798.1,607.9 798.9,607.8 799.7,607.5 800.5,607.5 801.3,607.1 802.1,608.9 802.9,608.8 803.7,609.1 804.5,609.0 805.2,608.4 806.0,609.3 806.7,608.2 807.5,609.2 808.2,608.5 808.9,608.9 809.6,609.9 810.4,609.2 811.1,610.2 811.9,609.8 812.6,609.3 813.4,609.4 814.2,609.1 815.0,610.2 815.8,610.8 816.6,609.8 817.4,610.4 818.2,611.4 819.0,610.5 819.8,611.6 820.6,611.5 821.4,611.0 822.2,611.4 823.0,610.5 823.8,611.4 824.6,611.9 825.4,611.1 826.2,610.9 827.0,610.9 827.8,611.3 828.6,611.5 829.3,612.6 830.1,612.1 830.8,612.4 831.5,612.1 832.3,612.1 833.0,612.7 833.8,613.1 834.5,612.2 835.2,612.7 836.0,613.2 836.7,613.8 837.5,612.7 838.3,613.0 839.1,613.3 839.9,612.6 840.7,613.6 841.5,614.3 842.3,613.1 843.1,613.5 843.9,612.9 844.7,613.7 845.4,614.6 846.2,613.9 846.9,613.4 847.6,613.6 848.4,614.3 849.1,614.8 849.9,614.1 850.6,614.3 851.3,614.9 852.1,613.7 852.8,615.3 853.6,614.5 854.4,614.3 855.2,615.2 856.0,614.3 856.8,614.2 857.6,614.5 858.4,615.3 859.2,614.3 860.0,615.0 860.8,614.7 861.6,615.3 862.4,614.7 863.1,615.9 864.0,616.2 864.8,615.2 865.5,615.3 866.3,615.8 867.1,616.1 867.9,615.0 868.7,616.2 869.5,616.5 870.3,616.5 871.1,615.9 871.9,616.7 872.7,616.3 873.5,615.7 874.3,615.9 875.1,616.6 875.9,616.6 876.7,617.1 877.5,617.0 878.2,616.2 879.0,616.6 879.8,617.4 880.6,616.9 881.4,616.6 882.2,617.9 883.0,617.1 883.8,617.0 884.5,617.4 885.3,617.2 886.1,617.2 886.9,618.0 887.7,618.3 888.5,617.7 889.3,617.4 890.1,618.0 890.9,618.0 891.6,618.1 892.4,617.8 893.2,618.9 894.0,617.9 894.8,617.7 895.6,619.0 896.4,619.1 897.1,618.3 897.9,618.2 898.7,619.0 899.5,619.7 900.3,618.6 901.1,619.1 901.9,618.7 902.6,619.6 903.4,619.1 904.2,619.0 905.0,619.6 905.8,619.4 906.6,618.8 907.4,619.2 908.1,620.3 908.9,620.0 909.7,619.5 910.5,619.8 911.3,618.9 912.1,619.5 912.9,620.4 913.6,619.1 914.4,620.6 915.2,620.4 916.0,620.1 916.8,619.6 917.6,619.1 918.3,619.5 919.1,620.3 919.9,619.8 920.7,620.5 921.5,619.5 922.3,620.6 923.0,620.7 923.8,620.5 924.6,619.6 925.4,619.7 926.2,619.5 927.0,619.5 927.8,620.8 928.5,620.3 929.3,620.9 930.1,620.1 930.9,620.2 931.7,621.2 932.5,621.5 933.2,619.9 934.0,621.2 934.8,620.8 935.6,619.9 936.4,621.0 937.2,620.4 938.0,620.6 938.7,621.8 939.5,621.4 940.3,620.2 941.1,621.4 941.9,620.2 942.7,621.8 943.4,621.3 944.2,621.4 945.0,620.4 945.8,620.5 946.6,621.4 947.4,621.2 948.1,622.0 948.9,621.0 949.7,621.3 950.5,620.8 951.3,621.5 952.1,622.4 952.9,621.2 953.7,622.1 954.5,621.1 955.3,622.4 956.1,621.7 956.9,621.1 957.7,622.3 958.5,622.5 959.2,621.2 960.0,621.2 960.8,621.4 961.6,621.9 962.4,622.7 963.2,622.6 964.0,621.7 964.8,621.2 965.6,622.2 966.4,622.2 967.2,621.9 968.0,622.2" stroke="#1f58c8" stroke-width="3.1"/>
<polyline points="178.0,622.4 178.8,622.7 179.6,622.6 180.4,621.9 181.2,621.9 182.0,622.0 182.8,622.3 183.6,621.9 184.4,621.6 185.2,622.0 186.0,621.6 186.8,622.8 187.6,622.8 188.3,621.1 189.1,622.2 189.9,621.8 190.7,622.3 191.4,621.7 192.2,621.4 193.0,621.5 193.8,620.8 194.6,621.3 195.3,621.4 196.1,620.6 196.9,621.4 197.7,621.1 198.4,621.3 199.2,619.8 200.0,620.3 200.8,621.0 201.5,620.4 202.3,620.7 203.1,620.9 203.9,619.4 204.7,619.4 205.4,620.5 206.2,620.4 207.0,620.1 207.7,619.2 208.5,619.3 209.3,619.5 210.1,619.1 210.8,619.0 211.6,618.8 212.3,619.4 213.1,618.1 213.9,618.9 214.7,618.8 215.4,619.1 216.2,617.4 217.0,618.4 217.8,618.3 218.5,617.9 219.3,617.1 220.1,617.0 220.9,617.2 221.6,618.2 222.4,617.0 223.2,616.9 224.0,617.2 224.8,617.4 225.5,617.7 226.3,617.7 227.1,616.6 227.8,617.6 228.6,615.9 229.4,616.3 230.2,615.7 230.9,615.7 231.7,615.6 232.4,615.5 233.2,615.0 234.0,614.4 234.8,614.1 235.5,613.9 236.3,614.5 237.1,613.7 237.8,613.7 238.6,613.3 239.4,613.0 240.2,613.2 241.0,612.7 241.7,611.9 242.5,612.9 243.3,611.3 244.1,610.8 244.8,611.4 245.6,610.9 246.4,610.0 247.2,609.6 247.9,610.0 248.7,609.3 249.5,608.6 250.2,609.0 251.0,608.9 251.8,607.4 252.6,607.9 253.3,606.8 254.1,607.7 254.9,607.3 255.6,606.0 256.4,605.4 257.2,606.5 257.9,605.4 258.7,604.3 259.5,603.9 260.3,604.9 261.1,603.9 261.8,603.1 262.6,603.2 263.4,602.4 264.2,602.8 264.9,601.9 265.7,602.3 266.5,601.1 267.3,601.4 268.1,599.8 268.9,599.9 269.6,599.5 270.4,599.6 271.2,597.8 272.0,598.6 272.7,598.0 273.5,596.5 274.2,595.1 274.9,595.6 275.7,594.6 276.4,594.3 277.2,592.9 277.9,593.0 278.7,591.3 279.5,590.8 280.3,591.0 281.1,590.5 281.9,590.1 282.6,590.0 283.4,589.2 284.2,588.7 285.0,588.5 285.8,587.7 286.6,586.5 287.4,586.9 288.2,585.2 289.0,585.4 289.8,584.5 290.5,583.6 291.3,582.6 292.1,583.2 292.9,581.0 293.7,581.6 294.5,580.7 295.3,579.6 296.1,579.2 296.9,577.7 297.6,577.9 298.4,575.9 299.2,575.8 300.0,574.7 300.8,574.3 301.6,573.2 302.4,573.2 303.2,572.3 304.0,571.6 304.8,569.3 305.6,568.7 306.3,568.5 307.1,568.2 307.9,566.7 308.7,566.3 309.5,564.5 310.3,564.7 311.1,563.9 311.9,562.5 312.7,561.1 313.4,560.6 314.2,560.2 315.0,559.0 315.8,558.5 316.6,557.0 317.4,555.2 318.1,555.1 318.7,553.1 319.4,553.4 320.0,551.6 320.8,551.8 321.5,550.1 322.3,549.1 323.0,547.6 323.8,547.9 324.5,547.3 325.3,546.2 326.0,545.4 326.8,544.8 327.5,544.3 328.3,543.7 329.0,542.1 329.8,542.5 330.5,542.3 331.3,540.2 332.0,539.9 332.8,540.4 333.5,538.5 334.3,538.3 335.0,538.7 335.8,537.2 336.6,537.3 337.3,535.4 338.1,534.6 338.8,533.2 339.6,533.5 340.3,532.8 341.1,530.5 341.8,530.0 342.6,529.9 343.3,528.1 344.1,527.2 344.8,527.0 345.6,526.4 346.3,525.9 347.1,525.1 347.8,523.8 348.6,523.1 349.3,521.9 350.1,520.9 350.8,521.0 351.6,518.9 352.3,518.3 353.1,516.5 353.8,516.5 354.6,515.3 355.3,512.7 356.1,512.6 356.8,511.9 357.6,509.9 358.3,509.6 359.1,508.9 359.8,506.3 360.6,505.9 361.3,504.6 362.1,504.1 362.9,503.1 363.6,502.5 364.4,503.2 365.1,501.9 365.9,502.6 366.6,500.9 367.4,501.4 368.1,498.9 368.7,499.0 369.4,497.5 370.0,497.7 370.8,495.2 371.6,492.9 372.3,492.0 373.1,489.8 373.9,489.8 374.7,488.8 375.5,486.0 376.3,485.2 377.1,487.0 377.9,484.8 378.7,484.2 379.4,483.8 380.2,483.3 380.9,484.6 381.7,482.7 382.4,483.7 383.2,483.1 383.9,482.3 384.7,482.1 385.4,479.9 386.2,480.2 386.9,479.7 387.7,477.6 388.4,477.7 389.2,479.8 389.9,478.5 390.7,479.3 391.4,476.8 392.2,477.9 392.9,476.9 393.7,476.5 394.4,474.1 395.2,473.8 395.9,472.4 396.7,473.3 397.4,471.8 398.2,470.4 398.9,470.3 399.7,470.1 400.4,470.0 401.2,468.7 401.9,468.1 402.7,467.2 403.4,465.5 404.2,464.7 405.0,465.3 405.7,465.8 406.5,466.3 407.2,465.6 408.0,464.0 408.7,464.9 409.5,460.7 410.2,463.5 411.0,459.6 411.7,460.7 412.5,460.0 413.2,456.2 414.0,455.4 414.7,457.4 415.5,453.1 416.2,455.0 417.0,452.6 417.7,451.6 418.5,453.5 419.2,451.3 420.0,452.2 420.8,449.1 421.5,451.6 422.3,450.5 423.0,448.7 423.8,449.8 424.5,450.2 425.3,449.4 426.0,446.8 426.8,449.4 427.5,449.2 428.3,450.9 429.0,448.8 429.8,449.3 430.5,447.3 431.3,448.0 432.0,449.7 432.8,449.6 433.5,450.4 434.3,447.7 435.0,446.5 435.8,446.6 436.6,447.6 437.3,445.5 438.1,444.4 438.8,447.1 439.6,447.5 440.3,442.1 441.1,441.8 441.8,444.3 442.4,448.3 443.1,452.6 443.7,451.6 444.4,451.8 445.2,450.7 445.9,451.1 446.7,449.2 447.4,445.0 448.2,446.7 448.9,443.1 449.6,447.9 450.4,445.9 451.1,448.1 451.8,449.3 452.6,447.0 453.3,449.3 454.1,448.6 454.8,444.7 455.6,441.1 456.3,440.2 457.1,442.3 457.8,440.5 458.5,440.5 459.3,438.6 460.0,442.6 460.8,439.9 461.5,440.7 462.2,443.6 463.0,444.2 463.7,441.9 464.4,446.1 465.2,444.4 466.0,444.4 466.7,443.6 467.5,441.3 468.2,441.1 469.0,436.8 469.7,439.4 470.5,439.0 471.2,438.9 472.0,436.1 472.7,437.1 473.5,441.7 474.2,438.7 474.9,442.5 475.7,441.3 476.4,444.2 477.2,446.8 477.9,446.7 478.7,442.1 479.5,444.2 480.3,443.7 481.1,446.2 481.8,440.8 482.6,442.9 483.4,445.6 484.2,439.9 485.0,443.5 485.7,444.1 486.5,440.9 487.2,442.6 487.9,444.7 488.7,444.0 489.4,449.0 490.2,448.3 490.9,444.9 491.6,449.3 492.4,445.6 493.1,445.9 493.9,446.7 494.6,445.6 495.3,445.5 496.1,447.6 496.8,444.2 497.5,445.5 498.2,444.9 499.0,445.8 499.7,450.5 500.4,449.7 501.1,454.6 501.8,453.7 502.5,456.9 503.2,460.0 503.9,460.2 504.7,459.3 505.5,461.2 506.3,459.7 507.1,463.2 507.8,460.4 508.6,462.3 509.4,461.7 510.2,460.0 511.0,462.1 511.8,463.4 512.5,463.1 513.2,465.7 514.0,462.0 514.8,465.3 515.5,465.0 516.2,464.0 517.0,465.2 517.7,463.6 518.5,466.0 519.2,464.1 520.0,466.4 520.7,467.8 521.4,466.2 522.2,465.1 522.9,466.2 523.7,468.4 524.5,469.7 525.2,472.3 526.0,473.3 526.8,471.9 527.6,471.8 528.4,474.8 529.2,473.9 530.0,475.8 530.8,472.7 531.5,474.1 532.3,475.9 533.1,475.7 533.9,477.0 534.7,477.2 535.4,476.3 536.2,476.8 537.0,476.7 537.8,479.1 538.5,478.2 539.3,479.9 540.1,480.5 540.9,478.9 541.6,479.2 542.4,479.8 543.2,480.8 544.0,478.9 544.8,480.3 545.5,481.5 546.3,479.9 547.1,481.8 547.9,480.9 548.6,480.4 549.4,482.4 550.2,483.0 551.0,483.6 551.7,482.0 552.5,483.5 553.3,483.3 554.0,485.1 554.8,483.9 555.6,484.7 556.4,485.0 557.1,486.0 557.9,487.8 558.7,487.1 559.4,487.9 560.2,487.9 561.0,489.3 561.8,489.1 562.5,489.5 563.3,488.5 564.1,490.1 564.9,489.1 565.6,490.1 566.4,489.6 567.2,490.4 568.0,489.6 568.8,490.4 569.5,491.7 570.3,490.6 571.1,491.3 571.8,492.7 572.6,491.4 573.4,493.4 574.1,493.8 574.9,494.2 575.7,494.9 576.5,494.5 577.2,494.9 578.0,495.8 578.8,495.9 579.5,496.3 580.3,496.4 581.1,497.4 581.9,497.5 582.6,499.0 583.4,499.3 584.2,500.1 585.0,499.9 585.7,499.9 586.5,501.3 587.3,500.7 588.1,501.5 588.9,502.4 589.6,502.9 590.4,503.2 591.2,504.0 591.9,503.7 592.7,504.7 593.5,505.0 594.2,505.2 595.0,505.6 595.8,506.4 596.5,507.3 597.3,508.4 598.1,508.2 598.9,509.9 599.6,509.0 600.4,510.8 601.2,510.8 602.0,511.0 602.7,511.2 603.5,512.6 604.3,513.0 605.1,513.8 605.8,514.6 606.6,514.4 607.4,515.8 608.2,516.5 609.0,515.5 609.7,516.9 610.5,517.7 611.2,517.3 612.0,518.4 612.7,520.3 613.4,520.5 614.2,522.2 614.9,523.4 615.6,523.5 616.4,523.2 617.1,524.1 617.9,525.6 618.6,526.3 619.4,525.4 620.2,527.0 620.9,527.3 621.7,526.9 622.5,527.3 623.2,529.2 624.0,529.6 624.8,528.9 625.5,529.4 626.3,529.3 627.1,530.0 627.9,530.5 628.6,531.5 629.4,531.4 630.2,532.2 631.0,532.6 631.7,532.7 632.5,533.1 633.3,532.5 634.1,534.0 634.8,534.5 635.6,535.4 636.4,534.8 637.2,535.6 638.0,535.6 638.7,535.6 639.5,536.0 640.3,536.3 641.0,537.1 641.8,537.9 642.6,537.8 643.4,538.2 644.1,540.2 644.9,540.9 645.7,540.4 646.4,541.2 647.2,542.7 648.0,542.4 648.8,543.1 649.5,542.9 650.3,544.2 651.1,545.1 651.8,544.9 652.6,545.7 653.4,545.5 654.1,547.0 654.9,547.7 655.7,546.9 656.5,548.2 657.3,548.0 658.0,550.1 658.8,549.6 659.6,550.1 660.4,550.6 661.1,551.8 661.9,551.8 662.7,552.4 663.5,552.6 664.2,552.9 665.0,553.8 665.8,554.3 666.6,554.3 667.3,554.6 668.1,554.8 668.9,555.4 669.6,555.0 670.4,555.8 671.2,557.1 672.0,557.8 672.7,556.5 673.5,556.9 674.3,558.9 675.0,559.1 675.8,558.9 676.6,560.0 677.4,559.2 678.1,559.6 678.9,561.1 679.7,560.3 680.5,561.8 681.2,560.6 682.0,561.8 682.8,562.0 683.6,561.5 684.3,561.9 685.1,562.5 685.9,563.0 686.7,562.9 687.4,563.8 688.2,564.6 689.0,564.8 689.8,563.9 690.5,564.8 691.3,566.0 692.1,565.4 692.9,566.6 693.7,565.6 694.5,567.2 695.3,566.8 696.1,568.7 696.9,568.3 697.7,568.9 698.5,568.8 699.3,569.3 700.1,570.8 700.9,571.1 701.7,571.1 702.5,572.6 703.2,572.0 704.0,572.8 704.8,572.4 705.6,573.2 706.3,574.3 707.1,573.7 707.9,574.3 708.7,574.2 709.5,574.6 710.2,575.0 711.0,575.2 711.8,576.5 712.6,576.4 713.4,577.6 714.2,577.4 715.0,578.1 715.8,578.1 716.6,578.1 717.4,578.6 718.2,578.8 719.0,578.8 719.7,580.2 720.5,580.1 721.2,579.8 721.9,579.7 722.6,580.4 723.4,581.2 724.1,580.8 724.8,581.2 725.6,581.6 726.3,581.8 727.0,582.1 727.8,582.3 728.5,582.6 729.2,583.5 730.0,583.9 730.7,583.5 731.5,584.5 732.2,584.3 733.0,584.5 733.8,585.6 734.6,585.2 735.4,585.6 736.2,585.1 737.0,585.5 737.8,586.0 738.6,586.4 739.4,586.9 740.2,587.3 741.0,587.3 741.8,587.4 742.6,587.4 743.4,587.5 744.2,588.4 745.0,588.1 745.8,587.8 746.6,588.2 747.4,588.4 748.2,589.7 748.9,590.2 749.7,590.1 750.4,590.2 751.1,590.2 751.9,590.0 752.6,590.8 753.4,590.8 754.1,590.6 754.8,590.4 755.6,590.8 756.3,592.5 757.1,591.6 757.9,592.5 758.7,592.3 759.5,592.7 760.3,592.4 761.1,593.3 761.9,592.5 762.7,593.8 763.5,594.4 764.3,594.7 765.0,594.4 765.8,593.8 766.5,595.3 767.2,594.8 768.0,595.2 768.7,595.7 769.5,595.7 770.2,596.4 770.9,596.3 771.7,597.0 772.4,596.0 773.2,596.9 774.0,597.0 774.8,597.4 775.6,596.8 776.4,596.7 777.2,596.8 778.0,597.8 778.8,598.2 779.6,597.5 780.4,598.6 781.2,598.8 782.0,598.1 782.8,599.8 783.6,598.6 784.4,598.9 785.2,599.4 786.0,600.1 786.8,599.7 787.6,600.3 788.4,600.5 789.1,600.2 789.9,600.5 790.6,601.6 791.4,600.8 792.1,602.0 792.8,602.3 793.5,602.1 794.3,601.7 795.0,602.8 795.8,601.6 796.5,603.1 797.3,603.0 798.1,602.8 798.9,603.4 799.7,602.7 800.5,602.5 801.3,602.4 802.1,603.2 802.9,603.5 803.7,604.2 804.5,603.3 805.2,603.9 806.0,604.1 806.7,605.0 807.5,604.1 808.2,604.7 808.9,604.0 809.6,604.4 810.4,604.6 811.1,605.0 811.9,605.8 812.6,605.5 813.4,605.4 814.2,605.6 815.0,606.7 815.8,606.1 816.6,605.7 817.4,605.7 818.2,607.0 819.0,605.8 819.8,606.2 820.6,607.6 821.4,606.3 822.2,607.3 823.0,607.2 823.8,606.6 824.6,607.8 825.4,608.2 826.2,608.4 827.0,607.4 827.8,607.8 828.6,607.4 829.3,608.9 830.1,607.6 830.8,609.1 831.5,607.7 832.3,608.4 833.0,608.5 833.8,608.8 834.5,608.8 835.2,609.6 836.0,609.6 836.7,609.5 837.5,610.0 838.3,608.6 839.1,609.7 839.9,609.6 840.7,610.7 841.5,609.3 842.3,609.6 843.1,610.1 843.9,609.5 844.7,610.1 845.4,610.1 846.2,611.1 846.9,610.7 847.6,609.9 848.4,611.1 849.1,611.4 849.9,611.8 850.6,611.6 851.3,611.5 852.1,610.6 852.8,612.0 853.5,610.8 854.3,612.2 855.1,611.6 855.8,612.2 856.6,611.6 857.3,612.5 858.1,612.2 858.8,612.0 859.6,612.1 860.3,613.2 861.1,613.2 861.9,612.7 862.6,612.3 863.4,612.9 864.2,613.2 864.9,613.2 865.7,613.2 866.5,613.6 867.3,612.8 868.1,613.8 868.9,613.0 869.6,614.1 870.4,613.2 871.2,613.1 872.0,614.1 872.8,613.0 873.5,614.2 874.3,613.9 875.1,614.2 875.9,613.8 876.7,613.9 877.5,614.9 878.2,614.5 879.0,613.9 879.8,613.8 880.6,613.6 881.4,614.8 882.2,614.5 883.0,615.1 883.8,614.4 884.5,615.4 885.3,615.7 886.1,615.4 886.9,615.0 887.7,615.3 888.5,614.7 889.3,614.8 890.1,614.7 890.9,615.9 891.6,615.2 892.4,616.5 893.2,616.2 894.0,616.2 894.8,616.2 895.6,616.2 896.4,615.4 897.1,617.0 897.9,616.3 898.7,616.6 899.5,616.5 900.3,616.4 901.1,616.0 901.9,616.7 902.6,616.9 903.4,616.4 904.2,617.0 905.0,616.0 905.8,617.1 906.5,617.3 907.3,617.7 908.1,617.3 908.9,617.7 909.7,616.4 910.5,617.6 911.2,617.3 912.0,617.7 912.8,616.3 913.6,617.3 914.4,616.7 915.2,616.8 916.0,616.9 916.7,616.7 917.5,616.9 918.3,618.0 919.1,617.9 919.9,618.5 920.7,617.0 921.5,618.0 922.2,618.6 923.0,618.3 923.8,617.7 924.6,617.4 925.4,618.7 926.2,618.9 927.0,617.6 927.7,618.3 928.5,618.1 929.3,618.5 930.1,619.0 930.9,618.7 931.6,618.4 932.4,619.0 933.2,618.9 934.0,619.4 934.8,618.2 935.6,618.7 936.3,619.0 937.1,618.6 937.9,619.0 938.7,618.2 939.5,618.3 940.3,619.0 941.0,619.1 941.8,620.0 942.6,619.4 943.4,619.5 944.2,619.4 945.0,620.2 945.8,620.0 946.6,620.2 947.4,620.0 948.1,619.6 948.9,620.0 949.7,619.7 950.5,619.4 951.3,619.2 952.0,619.9 952.8,619.0 953.6,620.3 954.3,619.6 955.1,620.8 955.9,619.7 956.6,620.6 957.4,620.4 958.1,619.5 958.9,619.3 959.7,619.9 960.5,620.8 961.2,620.5 962.0,620.3 962.7,620.3 963.5,620.6 964.3,619.6 965.0,621.3 965.8,620.5 966.6,620.2 967.3,620.5 968.1,621.1" stroke="#2e9e5e" stroke-width="3.1"/>
</g>
<g stroke="#000" stroke-width="4.3" fill="none">
<rect x="177.6" y="2.8" width="791.6" height="637.4"/>
<line x1="177.6" y1="626.3" x2="190.1" y2="626.3"/><line x1="969.2" y1="626.3" x2="956.7" y2="626.3"/><line x1="177.6" y1="583.0" x2="183.6" y2="583.0"/><line x1="969.2" y1="583.0" x2="963.2" y2="583.0"/><line x1="177.6" y1="539.7" x2="190.1" y2="539.7"/><line x1="969.2" y1="539.7" x2="956.7" y2="539.7"/><line x1="177.6" y1="496.4" x2="183.6" y2="496.4"/><line x1="969.2" y1="496.4" x2="963.2" y2="496.4"/><line x1="177.6" y1="453.1" x2="190.1" y2="453.1"/><line x1="969.2" y1="453.1" x2="956.7" y2="453.1"/><line x1="177.6" y1="409.8" x2="183.6" y2="409.8"/><line x1="969.2" y1="409.8" x2="963.2" y2="409.8"/><line x1="177.6" y1="366.5" x2="190.1" y2="366.5"/><line x1="969.2" y1="366.5" x2="956.7" y2="366.5"/><line x1="177.6" y1="323.2" x2="183.6" y2="323.2"/><line x1="969.2" y1="323.2" x2="963.2" y2="323.2"/><line x1="177.6" y1="279.9" x2="190.1" y2="279.9"/><line x1="969.2" y1="279.9" x2="956.7" y2="279.9"/><line x1="177.6" y1="236.6" x2="183.6" y2="236.6"/><line x1="969.2" y1="236.6" x2="963.2" y2="236.6"/><line x1="177.6" y1="193.3" x2="190.1" y2="193.3"/><line x1="969.2" y1="193.3" x2="956.7" y2="193.3"/><line x1="177.6" y1="150.0" x2="183.6" y2="150.0"/><line x1="969.2" y1="150.0" x2="963.2" y2="150.0"/><line x1="177.6" y1="106.7" x2="190.1" y2="106.7"/><line x1="969.2" y1="106.7" x2="956.7" y2="106.7"/><line x1="177.6" y1="63.4" x2="183.6" y2="63.4"/><line x1="969.2" y1="63.4" x2="963.2" y2="63.4"/><line x1="177.6" y1="20.1" x2="190.1" y2="20.1"/><line x1="969.2" y1="20.1" x2="956.7" y2="20.1"/><line x1="189.3" y1="2.8" x2="189.3" y2="8.8"/><line x1="189.3" y1="640.2" x2="189.3" y2="646.2"/><line x1="213.6" y1="2.8" x2="213.6" y2="8.8"/><line x1="213.6" y1="640.2" x2="213.6" y2="646.2"/><line x1="238.0" y1="2.8" x2="238.0" y2="15.3"/><line x1="238.0" y1="640.2" x2="238.0" y2="652.7"/><line x1="262.4" y1="2.8" x2="262.4" y2="8.8"/><line x1="262.4" y1="640.2" x2="262.4" y2="646.2"/><line x1="286.7" y1="2.8" x2="286.7" y2="8.8"/><line x1="286.7" y1="640.2" x2="286.7" y2="646.2"/><line x1="311.1" y1="2.8" x2="311.1" y2="8.8"/><line x1="311.1" y1="640.2" x2="311.1" y2="646.2"/><line x1="335.5" y1="2.8" x2="335.5" y2="8.8"/><line x1="335.5" y1="640.2" x2="335.5" y2="646.2"/><line x1="359.9" y1="2.8" x2="359.9" y2="15.3"/><line x1="359.9" y1="640.2" x2="359.9" y2="652.7"/><line x1="384.2" y1="2.8" x2="384.2" y2="8.8"/><line x1="384.2" y1="640.2" x2="384.2" y2="646.2"/><line x1="408.6" y1="2.8" x2="408.6" y2="8.8"/><line x1="408.6" y1="640.2" x2="408.6" y2="646.2"/><line x1="433.0" y1="2.8" x2="433.0" y2="8.8"/><line x1="433.0" y1="640.2" x2="433.0" y2="646.2"/><line x1="457.4" y1="2.8" x2="457.4" y2="8.8"/><line x1="457.4" y1="640.2" x2="457.4" y2="646.2"/><line x1="481.7" y1="2.8" x2="481.7" y2="15.3"/><line x1="481.7" y1="640.2" x2="481.7" y2="652.7"/><line x1="506.1" y1="2.8" x2="506.1" y2="8.8"/><line x1="506.1" y1="640.2" x2="506.1" y2="646.2"/><line x1="530.5" y1="2.8" x2="530.5" y2="8.8"/><line x1="530.5" y1="640.2" x2="530.5" y2="646.2"/><line x1="554.8" y1="2.8" x2="554.8" y2="8.8"/><line x1="554.8" y1="640.2" x2="554.8" y2="646.2"/><line x1="579.2" y1="2.8" x2="579.2" y2="8.8"/><line x1="579.2" y1="640.2" x2="579.2" y2="646.2"/><line x1="603.6" y1="2.8" x2="603.6" y2="15.3"/><line x1="603.6" y1="640.2" x2="603.6" y2="652.7"/><line x1="628.0" y1="2.8" x2="628.0" y2="8.8"/><line x1="628.0" y1="640.2" x2="628.0" y2="646.2"/><line x1="652.3" y1="2.8" x2="652.3" y2="8.8"/><line x1="652.3" y1="640.2" x2="652.3" y2="646.2"/><line x1="676.7" y1="2.8" x2="676.7" y2="8.8"/><line x1="676.7" y1="640.2" x2="676.7" y2="646.2"/><line x1="701.1" y1="2.8" x2="701.1" y2="8.8"/><line x1="701.1" y1="640.2" x2="701.1" y2="646.2"/><line x1="725.5" y1="2.8" x2="725.5" y2="15.3"/><line x1="725.5" y1="640.2" x2="725.5" y2="652.7"/><line x1="749.8" y1="2.8" x2="749.8" y2="8.8"/><line x1="749.8" y1="640.2" x2="749.8" y2="646.2"/><line x1="774.2" y1="2.8" x2="774.2" y2="8.8"/><line x1="774.2" y1="640.2" x2="774.2" y2="646.2"/><line x1="798.6" y1="2.8" x2="798.6" y2="8.8"/><line x1="798.6" y1="640.2" x2="798.6" y2="646.2"/><line x1="823.0" y1="2.8" x2="823.0" y2="8.8"/><line x1="823.0" y1="640.2" x2="823.0" y2="646.2"/><line x1="847.3" y1="2.8" x2="847.3" y2="15.3"/><line x1="847.3" y1="640.2" x2="847.3" y2="652.7"/><line x1="871.7" y1="2.8" x2="871.7" y2="8.8"/><line x1="871.7" y1="640.2" x2="871.7" y2="646.2"/><line x1="896.1" y1="2.8" x2="896.1" y2="8.8"/><line x1="896.1" y1="640.2" x2="896.1" y2="646.2"/><line x1="920.4" y1="2.8" x2="920.4" y2="8.8"/><line x1="920.4" y1="640.2" x2="920.4" y2="646.2"/><line x1="944.8" y1="2.8" x2="944.8" y2="8.8"/><line x1="944.8" y1="640.2" x2="944.8" y2="646.2"/><line x1="969.2" y1="640.2" x2="969.2" y2="652.7"/><line x1="177.6" y1="640.2" x2="177.6" y2="642.2"/>
</g>
<g font-size="33">
<text x="164" y="636.3" text-anchor="end">0</text><text x="164" y="549.7" text-anchor="end">2500</text><text x="164" y="463.1" text-anchor="end">5000</text><text x="164" y="376.5" text-anchor="end">7500</text><text x="164" y="289.9" text-anchor="end">10000</text><text x="164" y="203.3" text-anchor="end">12500</text><text x="164" y="116.7" text-anchor="end">15000</text><text x="164" y="30.1" text-anchor="end">17500</text>
<text x="238.0" y="687.3" text-anchor="middle">350</text><text x="359.9" y="687.3" text-anchor="middle">400</text><text x="481.7" y="687.3" text-anchor="middle">450</text><text x="603.6" y="687.3" text-anchor="middle">500</text><text x="725.5" y="687.3" text-anchor="middle">550</text><text x="847.3" y="687.3" text-anchor="middle">600</text><text x="969.2" y="687.3" text-anchor="middle">650</text>
</g>
<text class="ttl" x="574.5" y="749" font-size="42.5" text-anchor="middle">Wavelength (nm)</text>
<text class="ttl" transform="translate(31.6,307.6) rotate(-90)" font-size="42.5" text-anchor="middle">Intensity (a. u.)</text>
<g stroke-width="2.6">
<line x1="545" y1="38.8" x2="614.5" y2="38.8" stroke="#000"/>
<line x1="545" y1="79.6" x2="614.5" y2="79.6" stroke="#e3141c"/>
<line x1="545" y1="120.9" x2="614.5" y2="120.9" stroke="#1f58c8"/>
<line x1="545" y1="167.8" x2="614.5" y2="167.8" stroke="#2e9e5e"/>
</g>
<g font-size="30">
<text x="621.5" y="48.5">LSO (commercial)</text>
<text x="623" y="89.5">1300 <tspan font-size="20" dy="-11">o</tspan><tspan dy="11">C air</tspan></text>
<text x="623" y="131">1300 <tspan font-size="20" dy="-11">o</tspan><tspan dy="11">C N</tspan><tspan font-size="20" dy="7">2</tspan></text>
<text x="623" y="178">1100 <tspan font-size="20" dy="-11">o</tspan><tspan dy="11">C, air 50% Li</tspan><tspan font-size="20" dy="7">2</tspan><tspan dy="-7">SO</tspan><tspan font-size="20" dy="7">4</tspan></text>
</g>
</svg>
</body></html>
